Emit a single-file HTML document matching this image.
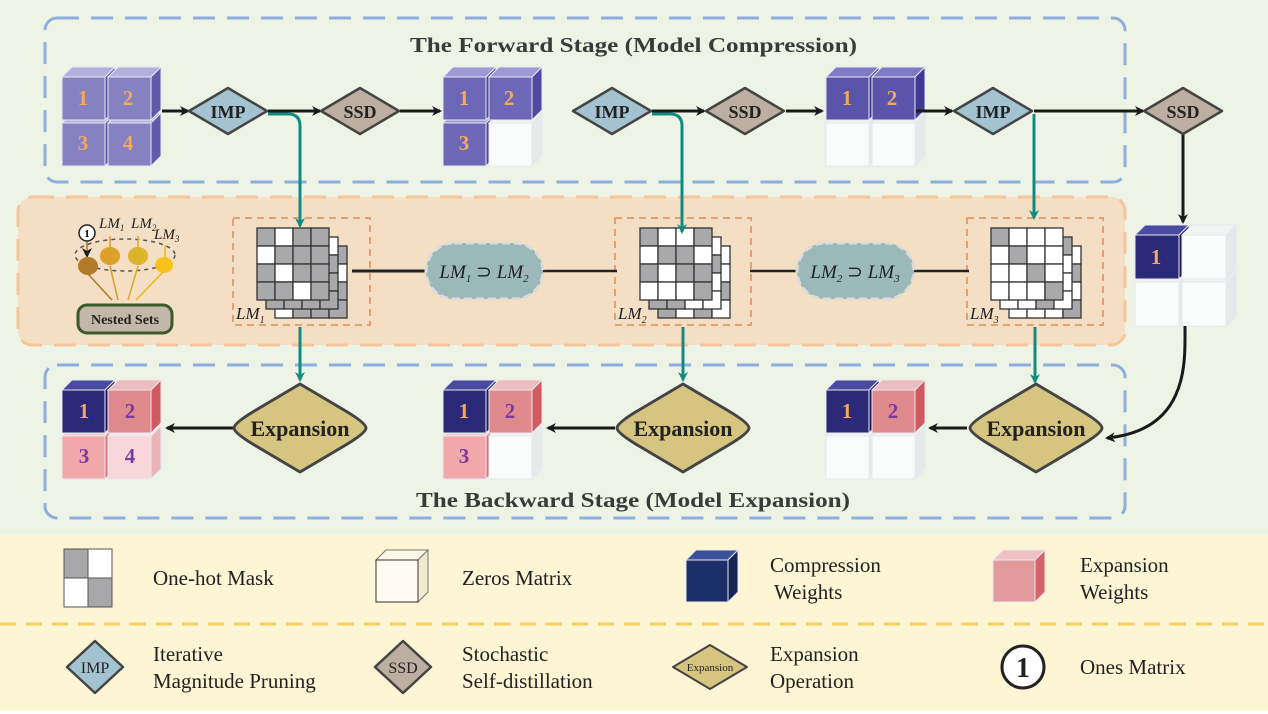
<!DOCTYPE html>
<html><head><meta charset="utf-8"><style>
html,body{margin:0;padding:0;width:1268px;height:714px;overflow:hidden;background:#fff}
svg{display:block}
.t{font-family:"Liberation Serif",serif}
</style></head><body>
<svg id="s" width="1268" height="714" viewBox="0 0 1268 714" xmlns="http://www.w3.org/2000/svg">
<defs>
<marker id="ab" markerWidth="10" markerHeight="10" refX="8" refY="5" orient="auto" markerUnits="userSpaceOnUse"><path d="M0,0 L10,5 L0,10 L3,5 Z" fill="#1a1a1a"/></marker>
<marker id="at" markerWidth="10" markerHeight="10" refX="8" refY="5" orient="auto" markerUnits="userSpaceOnUse"><path d="M0,0 L10,5 L0,10 L3,5 Z" fill="#138a80"/></marker>
</defs>
<rect x="0" y="0" width="1268" height="535" fill="#edf4e6"/>
<rect x="0" y="535" width="1268" height="176" fill="#fdf5d3"/>
<line x1="0" y1="624" x2="1268" y2="624" stroke="#f7cf5e" stroke-width="3" stroke-dasharray="16,10"/>

<rect x="45" y="18" width="1080" height="164" rx="12" fill="none" stroke="#8eaee0" stroke-width="3" stroke-dasharray="22,12"/>
<text class="t" x="410" y="52" textLength="447" lengthAdjust="spacingAndGlyphs" font-size="21" font-weight="bold" fill="#3a3a3a">The Forward Stage  (Model Compression)</text>
<rect x="18" y="197" width="1107" height="148" rx="14" fill="#f4dfc5" stroke="#f6c69a" stroke-width="3" stroke-dasharray="22,12"/>
<rect x="45" y="365" width="1080" height="153" rx="12" fill="none" stroke="#8eaee0" stroke-width="3" stroke-dasharray="22,12"/>
<text class="t" x="416" y="507" textLength="434" lengthAdjust="spacingAndGlyphs" font-size="21" font-weight="bold" fill="#3a3a3a">The Backward Stage  (Model Expansion)</text>

<g id="cubes"></g>
<g id="grids"></g>

<rect x="233" y="218" width="137" height="107" fill="none" stroke="#e39a6a" stroke-width="1.8" stroke-dasharray="7,5"/>
<rect x="615" y="218" width="136" height="107" fill="none" stroke="#e39a6a" stroke-width="1.8" stroke-dasharray="7,5"/>
<rect x="967" y="218" width="136" height="107" fill="none" stroke="#e39a6a" stroke-width="1.8" stroke-dasharray="7,5"/>
<text class="t" x="236" y="319" font-size="17" font-style="italic" fill="#222">LM<tspan font-size="10" dy="4">1</tspan></text>
<text class="t" x="618" y="319" font-size="17" font-style="italic" fill="#222">LM<tspan font-size="10" dy="4">2</tspan></text>
<text class="t" x="970" y="319" font-size="17" font-style="italic" fill="#222">LM<tspan font-size="10" dy="4">3</tspan></text>

<line x1="352" y1="271" x2="427" y2="271" stroke="#222" stroke-width="3"/>
<line x1="543" y1="271" x2="617" y2="271" stroke="#222" stroke-width="2.5"/>
<line x1="750" y1="271" x2="797" y2="271" stroke="#222" stroke-width="2.5"/>
<line x1="913" y1="271" x2="969" y2="271" stroke="#222" stroke-width="2.5"/>
<rect x="426" y="243" width="117" height="56" rx="28" fill="#9cb9b9" stroke="#dcdcdc" stroke-width="3" stroke-dasharray="8,4"/>
<text class="t" x="484" y="278" text-anchor="middle" font-size="19" font-style="italic" fill="#222">LM<tspan font-size="11" dy="4">1</tspan><tspan dy="-4" font-style="normal"> ⊃ </tspan>LM<tspan font-size="11" dy="4">2</tspan></text>
<rect x="797" y="243" width="117" height="56" rx="28" fill="#9cb9b9" stroke="#dcdcdc" stroke-width="3" stroke-dasharray="8,4"/>
<text class="t" x="855" y="278" text-anchor="middle" font-size="19" font-style="italic" fill="#222">LM<tspan font-size="11" dy="4">2</tspan><tspan dy="-4" font-style="normal"> ⊃ </tspan>LM<tspan font-size="11" dy="4">3</tspan></text>

<ellipse cx="125" cy="255" rx="50" ry="16" fill="none" stroke="#555" stroke-width="1.5" stroke-dasharray="4,4"/>
<g stroke-width="1.6">
<line x1="87" y1="241" x2="87" y2="256" stroke="#b07a2a" marker-end="url(#ab)"/>
<line x1="110" y1="236" x2="110" y2="250" stroke="#d9a02a"/>
<line x1="138" y1="236" x2="138" y2="250" stroke="#d7b02a"/>
<line x1="165" y1="245" x2="165" y2="258" stroke="#f2bb1a"/>
<line x1="88" y1="274" x2="112" y2="300" stroke="#b07a2a"/>
<line x1="110" y1="266" x2="118" y2="300" stroke="#d9a02a"/>
<line x1="138" y1="266" x2="128" y2="300" stroke="#d7b02a"/>
<line x1="163" y1="272" x2="136" y2="300" stroke="#f2bb1a"/>
</g>
<ellipse cx="88" cy="266" rx="10" ry="9" fill="#b07a2a"/>
<ellipse cx="110" cy="256" rx="10" ry="9" fill="#dea02a"/>
<ellipse cx="138" cy="256" rx="10" ry="9" fill="#dbb42a"/>
<ellipse cx="164" cy="265" rx="9" ry="8" fill="#f7c21a"/>
<circle cx="87" cy="233" r="8" fill="#fff" stroke="#222" stroke-width="1.5"/>
<text class="t" x="87" y="237" text-anchor="middle" font-size="11" font-weight="bold">1</text>
<text class="t" x="99" y="228" font-size="15" font-style="italic" fill="#222">LM<tspan font-size="9" dy="3">1</tspan></text>
<text class="t" x="131" y="228" font-size="15" font-style="italic" fill="#222">LM<tspan font-size="9" dy="3">2</tspan></text>
<text class="t" x="154" y="239" font-size="15" font-style="italic" fill="#222">LM<tspan font-size="9" dy="3">3</tspan></text>
<rect x="78" y="305" width="94" height="28" rx="9" fill="#c2b7a8" stroke="#3b5a2a" stroke-width="3"/>
<text class="t" x="125" y="324" text-anchor="middle" font-size="14" font-weight="bold" fill="#222">Nested Sets</text>

<g stroke="#1a1a1a" stroke-width="3" fill="none" marker-end="url(#ab)">
<line x1="162" y1="111" x2="188" y2="111"/>
<line x1="268" y1="111" x2="320" y2="111"/>
<line x1="400" y1="111" x2="440" y2="111"/>
<line x1="652" y1="111" x2="704" y2="111"/>
<line x1="786" y1="111" x2="822" y2="111"/>
<line x1="916" y1="111" x2="952" y2="111"/>
<line x1="1034" y1="111" x2="1143" y2="111"/>
<path d="M1183,134 L1183,222"/>
<path d="M1185,326 C1185,360 1190,430 1107,438"/>
<line x1="234" y1="428" x2="167" y2="428"/>
<line x1="615" y1="428" x2="548" y2="428"/>
<line x1="967" y1="428" x2="930" y2="428"/>
</g>
<g stroke="#138a80" stroke-width="3" fill="none" marker-end="url(#at)">
<path d="M268,114 L288,114 Q300,114 300,126 L300,226"/>
<path d="M652,114 L670,114 Q682,114 682,126 L682,232"/>
<path d="M1034,114 L1034,218"/>
<line x1="300" y1="327" x2="300" y2="380"/>
<line x1="683" y1="327" x2="683" y2="380"/>
<line x1="1035" y1="327" x2="1035" y2="382"/>
</g>

<g class="t" font-weight="bold" text-anchor="middle" fill="#222">
<path d="M228,88 L267,111 L228,134 L189,111 Z" fill="#a3c3d1" stroke="#444" stroke-width="2.5" stroke-linejoin="round"/>
<text x="228" y="118" font-size="18">IMP</text>
<path d="M360,88 L399,111 L360,134 L321,111 Z" fill="#bcaea0" stroke="#444" stroke-width="2.5" stroke-linejoin="round"/>
<text x="360" y="118" font-size="18">SSD</text>
<path d="M612,88 L651,111 L612,134 L573,111 Z" fill="#a3c3d1" stroke="#444" stroke-width="2.5" stroke-linejoin="round"/>
<text x="612" y="118" font-size="18">IMP</text>
<path d="M745,88 L784,111 L745,134 L706,111 Z" fill="#bcaea0" stroke="#444" stroke-width="2.5" stroke-linejoin="round"/>
<text x="745" y="118" font-size="18">SSD</text>
<path d="M993,88 L1032,111 L993,134 L954,111 Z" fill="#a3c3d1" stroke="#444" stroke-width="2.5" stroke-linejoin="round"/>
<text x="993" y="118" font-size="18">IMP</text>
<path d="M1183,88 L1222,111 L1183,134 L1144,111 Z" fill="#bcaea0" stroke="#444" stroke-width="2.5" stroke-linejoin="round"/>
<text x="1183" y="118" font-size="18">SSD</text>
<path d="M300,384 L344,410 Q366,423 366,428 Q366,433 344,446 L300,472 L256,446 Q234,433 234,428 Q234,423 256,410 Z" fill="#d6c581" stroke="#444" stroke-width="3" stroke-linejoin="round"/>
<text x="300" y="436" font-size="22">Expansion</text>
<path d="M683,384 L727,410 Q749,423 749,428 Q749,433 727,446 L683,472 L639,446 Q617,433 617,428 Q617,423 639,410 Z" fill="#d6c581" stroke="#444" stroke-width="3" stroke-linejoin="round"/>
<text x="683" y="436" font-size="22">Expansion</text>
<path d="M1036,384 L1080,410 Q1102,423 1102,428 Q1102,433 1080,446 L1036,472 L992,446 Q970,433 970,428 Q970,423 992,410 Z" fill="#d6c581" stroke="#444" stroke-width="3" stroke-linejoin="round"/>
<text x="1036" y="436" font-size="22">Expansion</text>
</g>

<g class="t" text-anchor="middle" font-size="21" font-weight="bold">
<text x="83" y="105" fill="#f4a85c">1</text><text x="128" y="105" fill="#f4a85c">2</text>
<text x="83" y="150" fill="#f4a85c">3</text><text x="128" y="150" fill="#f4a85c">4</text>
<text x="464" y="105" fill="#f4a85c">1</text><text x="509" y="105" fill="#f4a85c">2</text>
<text x="464" y="150" fill="#f4a85c">3</text>
<text x="847" y="105" fill="#f4a85c">1</text><text x="892" y="105" fill="#f4a85c">2</text>
<text x="1156" y="264" fill="#f4a85c">1</text>
<text x="84" y="418" fill="#f4a85c">1</text><text x="130" y="418" fill="#7a3aa0">2</text>
<text x="84" y="463" fill="#7a3aa0">3</text><text x="130" y="463" fill="#7a3aa0">4</text>
<text x="464" y="418" fill="#f4a85c">1</text><text x="510" y="418" fill="#7a3aa0">2</text>
<text x="464" y="463" fill="#7a3aa0">3</text>
<text x="847" y="418" fill="#f4a85c">1</text><text x="893" y="418" fill="#7a3aa0">2</text>
</g>

<g>
<rect x="64" y="549" width="24" height="29" fill="#a8a8ab" stroke="#555"/><rect x="88" y="549" width="24" height="29" fill="#fff" stroke="#555"/>
<rect x="64" y="578" width="24" height="29" fill="#fff" stroke="#555"/><rect x="88" y="578" width="24" height="29" fill="#a8a8ab" stroke="#555"/>
</g>
<g class="t" font-size="21" fill="#222">
<text x="153" y="585">One-hot Mask</text>
<text x="462" y="585">Zeros Matrix</text>
<text x="770" y="572">Compression</text><text x="774" y="599">Weights</text>
<text x="1080" y="572">Expansion</text><text x="1080" y="599">Weights</text>
<text x="153" y="661">Iterative</text><text x="153" y="688">Magnitude Pruning</text>
<text x="462" y="661">Stochastic</text><text x="462" y="688">Self-distillation</text>
<text x="770" y="661">Expansion</text><text x="770" y="688">Operation</text>
<text x="1080" y="674">Ones Matrix</text>
</g>
<g class="t" text-anchor="middle" fill="#222">
<path d="M95,641 L123,667 L95,693 L67,667 Z" fill="#a3c3d1" stroke="#444" stroke-width="2.5" stroke-linejoin="round"/>
<text x="95" y="673" font-size="16">IMP</text>
<path d="M403,641 L431,667 L403,693 L375,667 Z" fill="#bcaea0" stroke="#444" stroke-width="2.5" stroke-linejoin="round"/>
<text x="403" y="673" font-size="16">SSD</text>
<path d="M710,645 L747,667 L710,689 L673,667 Z" fill="#d6c581" stroke="#444" stroke-width="2" stroke-linejoin="round"/>
<text x="710" y="671" font-size="11">Expansion</text>
<circle cx="1023" cy="667" r="21" fill="#fff" stroke="#222" stroke-width="3"/>
<text x="1023" y="677" font-size="28" font-weight="bold">1</text>
</g>
</svg>
<script>
var NS="http://www.w3.org/2000/svg",cg=document.getElementById('cubes'),gg=document.getElementById('grids');
function el(p,t,a){var e=document.createElementNS(NS,t);for(var k in a)e.setAttribute(k,a[k]);p.appendChild(e);return e;}
var C={p:["#8682c2","#b3b0de","#5f5aa9"],p2:["#6c67b6","#9d99d4","#4e49a0"],p3:["#5a55aa","#7f7ac4","#403b92"],
w:["#fafbfb","#f2f4f4","#e6e9e9"],n:["#2c2a78","#4a4aa0","#1d1b5a"],k:["#e08a8e","#ecbcbe","#d05a60"],k2:["#f0a8aa","#f6cfd0","#d8767a"],k3:["#f8d6da","#fbe6e8","#eab4ba"]};
function cube(x,y,s,d,c){
 el(cg,'path',{d:"M"+x+","+y+" l"+d+","+(-d)+" h"+s+" l"+(-d)+","+d+" Z",fill:c[1],stroke:"#e8e8f0","stroke-width":1});
 el(cg,'path',{d:"M"+(x+s)+","+y+" l"+d+","+(-d)+" v"+s+" l"+(-d)+","+d+" Z",fill:c[2],stroke:"#e8e8f0","stroke-width":1});
 el(cg,'rect',{x:x,y:y,width:s,height:s,fill:c[0],stroke:"#e8e8f0","stroke-width":1});
}
function grp(x,y,cs,s){s=s||43;var d=10;
 cube(x,y+s+3,s,d,C[cs[2]]);cube(x+s+3,y+s+3,s,d,C[cs[3]]);cube(x,y,s,d,C[cs[0]]);cube(x+s+3,y,s,d,C[cs[1]]);}
grp(62,77,['p','p','p','p']);
grp(443,77,['p2','p2','p2','w']);
grp(826,77,['p3','p3','w','w']);
grp(1135,235,['n','w','w','w'],44);
grp(62,390,['n','k','k2','k3']);
grp(443,390,['n','k','k2','w']);
grp(826,390,['n','k','w','w']);
(function(){var x=376,y=560,s=42,d=10;
 el(cg,'path',{d:"M"+x+","+y+" l"+d+","+(-d)+" h"+s+" l"+(-d)+","+d+" Z",fill:"#fdf8e8",stroke:"#777"});
 el(cg,'path',{d:"M"+(x+s)+","+y+" l"+d+","+(-d)+" v"+s+" l"+(-d)+","+d+" Z",fill:"#f0ead0",stroke:"#777"});
 el(cg,'rect',{x:x,y:y,width:s,height:s,fill:"#fffbee",stroke:"#333"});
 cube(686,560,42,10,["#1d2f6a","#3a509a","#152452"]);
 cube(993,560,42,10,["#e49a9c","#f0c0c2","#d46468"]);})();
function grid(x,y,pat){var c=18;
 var offs=[[18,18],[9,9],[0,0]];
 for(var L=0;L<3;L++){var ox=x+offs[L][0],oy=y+offs[L][1];
  for(var r=0;r<4;r++)for(var q=0;q<4;q++){var v=pat[L].charAt(r*4+q)==='1';
   el(gg,'rect',{x:ox+q*c,y:oy+r*c,width:c,height:c,fill:v?"#fff":"#a9a9ac",stroke:"#333","stroke-width":1.3});}}}
grid(257,228,["0010000100001000","0001001000100000","0100100001000010"]);
grid(640,228,["1011010111100101","1101101010110011","0110100101001110"]);
grid(991,228,["1111111011011110","1110111111011101","0111101111011110"]);
</script>
</body></html>
